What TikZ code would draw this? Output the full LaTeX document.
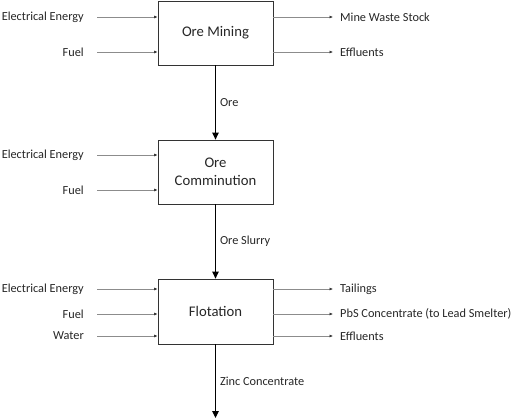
\documentclass[tikz,border=0pt]{standalone}
\usepackage{fontspec}
\setmainfont{Carlito}
\usetikzlibrary{
positioning,%
arrows.meta
}
\tikzset{
    unit/.style={draw=black!80, line width=0.8pt, minimum width=115pt, minimum height=64pt,
        align=center, font=\fontsize{14.7}{17.5}\selectfont, text=black!85},
    inlabel/.style={anchor=east, inner sep=3pt, font=\fontsize{12.3}{14}\selectfont, text=black!85},
    outlabel/.style={anchor=west, inner sep=3pt, font=\fontsize{12.3}{14}\selectfont, text=black!85},
    inflow/.style={draw=black!45, line width=0.6pt, -{Latex[length=3.5pt,width=3pt,black!80]}, shorten <=10pt},
    outflow/.style={draw=black!45, line width=0.6pt, -{Latex[length=3.5pt,width=3pt,black!80]}, shorten >=4pt},
    mainflow/.style={draw=black, line width=1pt, -{Triangle[length=7pt,width=6.5pt]}},
    flowname/.style={right, inner sep=4pt, font=\fontsize{12.3}{14}\selectfont, text=black!85}
}
\begin{document}
\begin{tikzpicture}[x=1pt, y=-1pt]
    \useasboundingbox (0,0) rectangle (520,420);
    % units
    \node[unit] (mining) at (215.5,33) {Ore Mining};
    \node[unit] (comm) at (215.5,172) {Ore\\Comminution};
    \node[unit, minimum height=65pt] (flot) at (215.5,311.5) {Flotation};
    \coordinate (zinc) at (mining.south |- 0,418);
    % ----
    \node[inlabel] (eeA) at (87,17) {Electrical Energy};
    \node[inlabel] (fuelA) at (87,52) {Fuel};
    \node[outlabel] (waste) at (337,17) {Mine Waste Stock};
    \node[outlabel] (effA) at (337,52) {Effluents};
    %
    \node[inlabel] (eeB) at (87,155) {Electrical Energy};
    \node[inlabel] (fuelB) at (87,190) {Fuel};
    %
    \node[inlabel] (eeC) at (87,289) {Electrical Energy};
    \node[inlabel] (fuelC) at (87,314) {Fuel};
    \node[inlabel] (water) at (87,336) {Water};
    \node[outlabel] (tail) at (337,289) {Tailings};
    \node[outlabel] (pbs) at (337,314) {PbS Concentrate (to Lead Smelter)};
    \node[outlabel] (effC) at (337,336) {Effluents};
    % ----
    \foreach \n/\u in {eeA/mining, fuelA/mining, eeB/comm, fuelB/comm, eeC/flot, fuelC/flot, water/flot}
        \path[inflow] (\n.east) -- (\n.east -| \u.west);
    \foreach \n/\u in {waste/mining, effA/mining, tail/flot, pbs/flot, effC/flot}
        \path[outflow] (\n.west -| \u.east) -- (\n.west);
    % ----
    \path[mainflow] (mining.south) -- node[flowname, midway] {Ore} (comm.north);
    \path[mainflow] (comm.south) -- node[flowname, midway] {Ore Slurry} (flot.north);
    \path[mainflow] (flot.south) -- node[flowname, midway] {Zinc Concentrate} (zinc);
\end{tikzpicture}
\end{document}
